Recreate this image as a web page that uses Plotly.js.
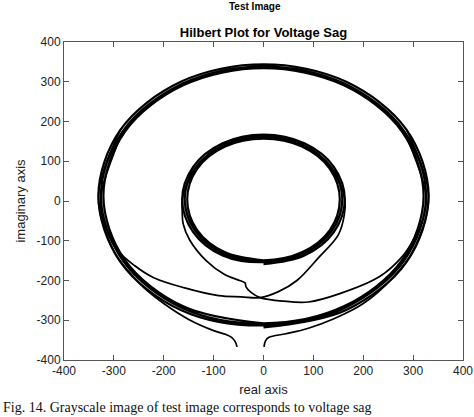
<!DOCTYPE html>
<html>
<head>
<meta charset="utf-8">
<script src="https://cdn.plot.ly/plotly-3.0.1.min.js"></script>
<style>
  html, body { margin: 0; padding: 0; background: #ffffff; }
  #chart { width: 474px; height: 417px; }
</style>
</head>
<body>
<div id="chart"></div>
<script>
// ---- data (real axis, imaginary axis) ----
// start of the record: tail rising from the bottom into the outer ring
const startTailX = [1, 4, 11, 45, 90, 140, 200, 260, 300, 331, 287];
const startTailY = [-367, -352, -343, -334, -320, -297, -258, -192, -125, 13, 179];

// outer ring (pre/post sag, ~330 amplitude): several overlapping cycles
const outerX = [0, 166, 287, 331, 287, 166, 0, -166, -287, -331, -287, -166,
                0, 163, 282, 326, 282, 163, 0, -163, -282, -326, -282, -163,
                0, 161, 278, 321, 278, 161, 0, -161, -278, -321, -278, -161, 0];
const outerY = [-318, -274, -153, 13, 179, 300, 344, 300, 179, 13, -153, -274,
                -313, -269, -150, 13, 176, 295, 339, 295, 176, 13, -150, -269,
                -308, -265, -148, 13, 174, 291, 334, 291, 174, 13, -148, -265, -308];

// transition into the sag (outer ring -> inner ring)
const sagInX = [-282, -326, -322, -295, -258, -220, -160, -90, -45, -7, 30, 67, 110, 150, 162, 163, 141];
const sagInY = [176, 13, -45, -120, -163, -193, -218, -238, -241, -243, -228, -200, -143, -85, -35, 4, 86];

// inner ring (during the sag, ~160 amplitude): overlapping cycles
const innerX = [0, 82, 141, 163, 141, 82, 0, -82, -141, -163, -141, -82,
                0, 79, 137, 158, 137, 79, 0, -79, -137, -158, -137, -79,
                0, 77, 133, 153, 133, 77, 0, -77, -133, -153, -133, -77, 0];
const innerY = [-159, -137, -78, 4, 86, 145, 167, 145, 86, 4, -78, -137,
                -154, -133, -75, 4, 83, 141, 162, 141, 83, 4, -75, -133,
                -149, -129, -73, 4, 81, 137, 157, 137, 81, 4, -73, -129, -149];

// transition out of the sag (inner ring -> outer ring), with the small kink
const sagOutX = [-141, -163, -163, -161, -148, -115, -78, -48, -37, -35, -25, -7, 40, 90, 153, 233, 278, 303, 320, 326, 282];
const sagOutY = [86, 4, -25, -58, -98, -150, -185, -200, -206, -216, -230, -243, -252, -254, -233, -190, -140, -92, -45, 13, 176];

// end of the record: tail leaving the outer ring towards the bottom
const endTailX = [-287, -331, -300, -265, -240, -200, -150, -100, -75, -64, -57, -53];
const endTailY = [179, 13, -126, -185, -218, -258, -298, -326, -336, -343, -353, -367];

// axis ticks
const tickVals = [-400, -300, -200, -100, 0, 100, 200, 300, 400];
const tickText = ['-400', '-300', '-200', '-100', '0', '100', '200', '300', '400'];

// ---- drawing ----
function seg(x, y, w) {
  return {
    type: 'scatter', mode: 'lines', x: x, y: y,
    line: { color: '#000000', width: w, shape: 'spline', smoothing: 1 },
    hoverinfo: 'skip', showlegend: false
  };
}

const traces = [
  seg(outerX, outerY, 2.2),
  seg(innerX, innerY, 2.2),
  seg(startTailX, startTailY, 1.7),
  seg(sagInX, sagInY, 1.7),
  seg(sagOutX, sagOutY, 1.7),
  seg(endTailX, endTailY, 1.7)
];

const axisFont = { family: 'Liberation Sans, Arial, sans-serif', size: 12, color: '#222222' };
const axisCommon = {
  range: [-400, 400], tickmode: 'array', tickvals: tickVals, ticktext: tickText,
  ticks: 'inside', ticklen: 5, tickwidth: 1, tickcolor: '#555555',
  showline: true, linecolor: '#555555', linewidth: 1, mirror: 'ticks',
  showgrid: false, zeroline: false, tickfont: axisFont, fixedrange: true
};

const layout = {
  width: 474, height: 417,
  margin: { l: 64, r: 11, t: 42, b: 57 },
  paper_bgcolor: '#ffffff', plot_bgcolor: '#ffffff',
  font: { family: 'Liberation Sans, Arial, sans-serif', color: '#000000' },
  title: {
    text: '<b>Hilbert Plot for Voltage Sag</b>',
    font: { family: 'Liberation Sans, Arial, sans-serif', size: 13, color: '#000000' },
    xref: 'paper', x: 0.5, xanchor: 'center',
    yref: 'container', y: 1 - 32 / 417, yanchor: 'middle'
  },
  xaxis: Object.assign({}, axisCommon, {
    title: { text: 'real axis', font: { family: 'Liberation Sans, Arial, sans-serif', size: 13, color: '#222222' }, standoff: 7 }
  }),
  yaxis: Object.assign({}, axisCommon, {
    title: { text: 'imaginary axis', font: { family: 'Liberation Sans, Arial, sans-serif', size: 13, color: '#222222' }, standoff: 8 }
  }),
  annotations: [
    {
      text: '<b>Test Image</b>', xref: 'paper', yref: 'paper',
      x: (255 - 64) / 399, y: (360 - 6) / 318, xanchor: 'center', yanchor: 'middle',
      showarrow: false, font: { family: 'Liberation Sans, Arial, sans-serif', size: 10, color: '#000000' }
    },
    {
      text: 'Fig. 14. Grayscale image of test image corresponds to voltage sag',
      xref: 'paper', yref: 'paper',
      x: (1 - 64) / 399, y: (360 - 417) / 318, xanchor: 'left', yanchor: 'bottom',
      showarrow: false, font: { family: 'Liberation Serif, Times New Roman, serif', size: 14, color: '#111111' }
    }
  ]
};

Plotly.newPlot('chart', traces, layout, { displayModeBar: false, staticPlot: true });
</script>
</body>
</html>
